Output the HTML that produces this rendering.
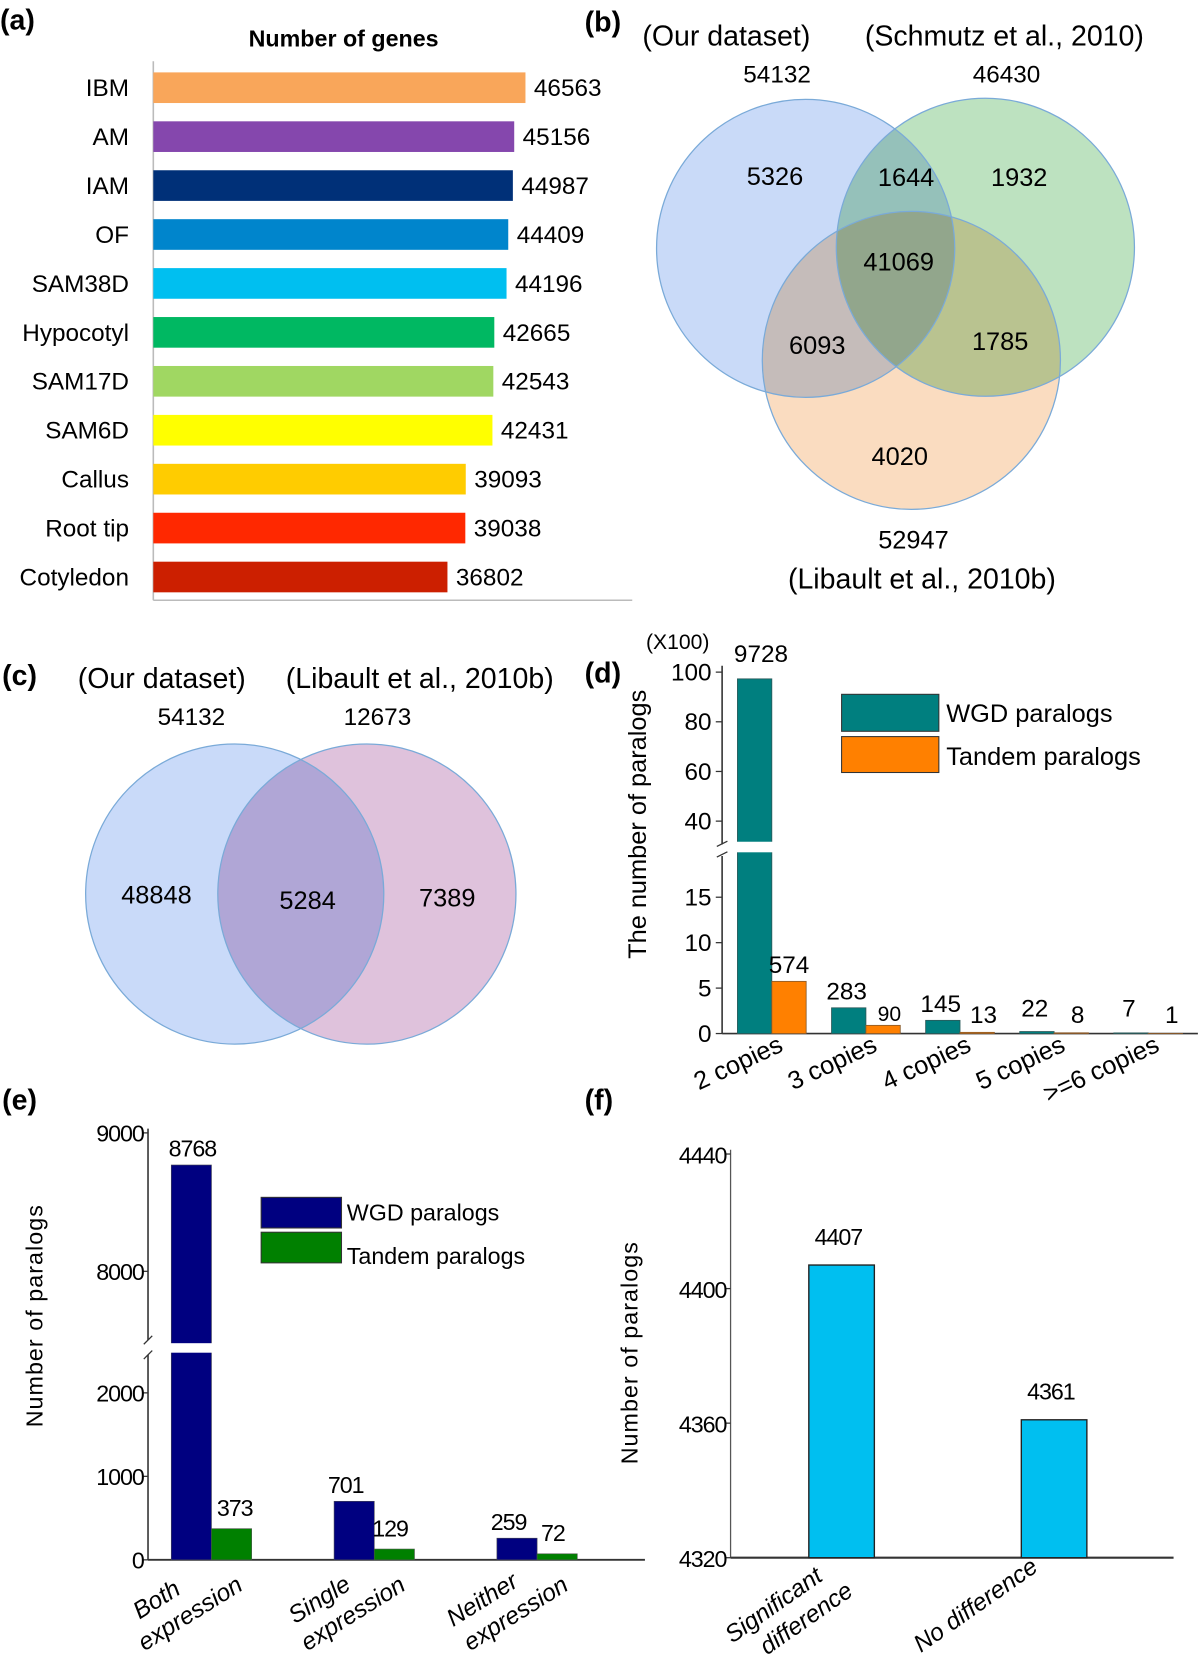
<!DOCTYPE html>
<html><head><meta charset="utf-8"><style>
html,body{margin:0;padding:0;background:#fff;}
svg{display:block;font-family:"Liberation Sans",Arial,sans-serif;}
.mb{mix-blend-mode:multiply;}
</style></head><body>
<svg id="fig" width="1200" height="1656" viewBox="0 0 1135 1567" preserveAspectRatio="none" xmlns="http://www.w3.org/2000/svg">
<rect x="0" y="0" width="1135" height="1567" fill="#fff"/>
<g id="pa">
<text x="0" y="28" font-size="27" font-weight="bold">(a)</text>
<text x="325" y="44" font-size="22" font-weight="bold" text-anchor="middle">Number of genes</text>
<line x1="145" y1="58" x2="145" y2="568" stroke="#bbb" stroke-width="1.5"/>
<line x1="145" y1="568" x2="598" y2="568" stroke="#bbb" stroke-width="1.5"/>
</g>
<g id="pb" style="isolation:isolate">
<text x="553" y="30" font-size="27" font-weight="bold">(b)</text>
<text x="687" y="43" font-size="27" text-anchor="middle">(Our dataset)</text>
<text x="950" y="43" font-size="27" text-anchor="middle">(Schmutz et al., 2010)</text>
<text x="735" y="78" font-size="23" text-anchor="middle">54132</text>
<text x="952" y="78" font-size="23" text-anchor="middle">46430</text>
<circle class="mb" cx="762" cy="235" r="141" fill="#c9daf8"/>
<circle class="mb" cx="932" cy="234" r="141" fill="#bde2c0"/>
<circle class="mb" cx="862" cy="341" r="141" fill="#fadcc0"/>
<circle cx="762" cy="235" r="141" fill="none" stroke="#7aaad8" stroke-width="1.2"/>
<circle cx="932" cy="234" r="141" fill="none" stroke="#7aaad8" stroke-width="1.2"/>
<circle cx="862" cy="341" r="141" fill="none" stroke="#7aaad8" stroke-width="1.2"/>
<g font-size="24" text-anchor="middle">
<text x="733" y="175">5326</text>
<text x="857" y="176">1644</text>
<text x="964" y="176">1932</text>
<text x="850" y="256">41069</text>
<text x="773" y="335">6093</text>
<text x="946" y="331">1785</text>
<text x="851" y="440">4020</text>
<text x="864" y="519">52947</text>
</g>
<text x="872" y="557" font-size="27" text-anchor="middle">(Libault et al., 2010b)</text>
</g>
<g id="pc" style="isolation:isolate">
<text x="2" y="648" font-size="27" font-weight="bold">(c)</text>
<text x="153" y="651" font-size="27" text-anchor="middle">(Our dataset)</text>
<text x="397" y="651" font-size="27" text-anchor="middle">(Libault et al., 2010b)</text>
<text x="181" y="686" font-size="23" text-anchor="middle">54132</text>
<text x="357" y="686" font-size="23" text-anchor="middle">12673</text>
<ellipse class="mb" cx="222" cy="846" rx="141" ry="142" fill="#c9daf9"/>
<ellipse class="mb" cx="347" cy="846" rx="141" ry="142" fill="#dfc2dc"/>
<ellipse cx="222" cy="846" rx="141" ry="142" fill="none" stroke="#7aaad8" stroke-width="1.2"/>
<ellipse cx="347" cy="846" rx="141" ry="142" fill="none" stroke="#7aaad8" stroke-width="1.2"/>
<g font-size="24" text-anchor="middle">
<text x="148" y="855">48848</text>
<text x="291" y="860">5284</text>
<text x="423" y="858">7389</text>
</g>
</g>
<g id="pd">
<text x="553" y="646" font-size="27" font-weight="bold">(d)</text>
<text x="611" y="614" font-size="20">(X100)</text>
<text transform="translate(611,780) rotate(-90)" font-size="24" text-anchor="middle">The number of  paralogs</text>
<rect x="796" y="657" width="92" height="35" fill="#007f7f" stroke="#333" stroke-width="1"/>
<rect x="796" y="697" width="92" height="34" fill="#ff8000" stroke="#333" stroke-width="1"/>
<text x="895" y="683" font-size="24">WGD paralogs</text>
<text x="895" y="724" font-size="24">Tandem paralogs</text>
</g>
<g id="pe">
<text x="2" y="1050" font-size="27" font-weight="bold">(e)</text>
<text transform="translate(40,1245) rotate(-90)" font-size="22" text-anchor="middle" letter-spacing="1">Number of  paralogs</text>
<rect x="247" y="1133" width="76" height="29" fill="#000080" stroke="#333"/>
<rect x="247" y="1166" width="76" height="29" fill="#008000" stroke="#333"/>
<text x="328" y="1155" font-size="22">WGD paralogs</text>
<text x="328" y="1196" font-size="22">Tandem paralogs</text>
</g>
<g id="pf">
<text x="553" y="1050" font-size="27" font-weight="bold">(f)</text>
<text transform="translate(603,1280) rotate(-90)" font-size="22" text-anchor="middle" letter-spacing="1">Number of  paralogs</text>
</g>
</svg>
<script>
var NS="http://www.w3.org/2000/svg";
function mk(p,tag,a){var e=document.createElementNS(NS,tag);for(var k in a)e.setAttribute(k,a[k]);p.appendChild(e);return e;}
function tx(p,x,y,s,size,anchor,extra){var e=mk(p,"text",{x:x,y:y,"font-size":size,"text-anchor":anchor||"middle"});if(extra)for(var k in extra)e.setAttribute(k,extra[k]);e.textContent=s;return e;}

// ---- Panel (a) data ----
var aCategories=["IBM","AM","IAM","OF","SAM38D","Hypocotyl","SAM17D","SAM6D","Callus","Root tip","Cotyledon"];
var aValues=[46563,45156,44987,44409,44196,42665,42543,42431,39093,39038,36802];
var aColors=["#f9a65a","#8547ad","#003078","#0085cc","#00bff0","#00b862","#a0d762","#ffff00","#ffcc00","#ff2800","#cc1f00"];

// ---- Panel (d) data (raw counts; axis in x100) ----
var dCategories=["2 copies","3 copies","4 copies","5 copies",">=6 copies"];
var dWGD=[9728,283,145,22,7];
var dTandem=[574,90,13,8,1];
var dTicksUpper=[100,80,60,40];
var dTicksLower=[15,10,5,0];

// ---- Panel (e) data ----
var eCategories=[["Both","expression"],["Single","expression"],["Neither","expression"]];
var eWGD=[8768,701,259];
var eTandem=[373,129,72];
var eTicksUpper=[9000,8000];
var eTicksLower=[2000,1000,0];

// ---- Panel (f) data ----
var fCategories=[["Significant","difference"],["No difference"]];
var fValues=[4407,4361];
var fTicks=[4440,4400,4360,4320];

(function(){
 var g=document.getElementById("pa");
 var x=function(v){return 145+v*(352/46563);};
 for(var i=0;i<aCategories.length;i++){
  var cy=83+i*46.3;
  var r=mk(g,"rect",{x:145,y:cy-14.5,width:x(aValues[i])-145,height:29,fill:aColors[i]});
  
  
  var l=tx(g,122,cy+8,aCategories[i],23,"end");
  
  
  var v=tx(g,x(aValues[i])+8,cy+8,String(aValues[i]),23,"start");
  
  
 }
})();

(function(){
 var g=document.getElementById("pd");
 var ax=683, y0=978;
 var yU=function(v){return 636+(100-v)*2.35;};
 var yL=function(v){return y0-v*8.6;};
 var yv=function(v){return v>19?yU(v):yL(v);};
 mk(g,"line",{x1:ax,y1:630,x2:ax,y2:799,stroke:"#333","stroke-width":1.5});
 mk(g,"line",{x1:ax,y1:810,x2:ax,y2:y0,stroke:"#333","stroke-width":1.5});
 mk(g,"line",{x1:ax-5,y1:801,x2:ax+5,y2:796,stroke:"#333","stroke-width":1.2});
 mk(g,"line",{x1:ax-5,y1:811,x2:ax+5,y2:806,stroke:"#333","stroke-width":1.2});
 mk(g,"line",{x1:ax,y1:y0,x2:1133,y2:y0,stroke:"#333","stroke-width":1.5});
 dTicksUpper.concat(dTicksLower).forEach(function(t,i){
  var yy=i<dTicksUpper.length?yU(t):yL(t);
  mk(g,"line",{x1:ax-6,y1:yy,x2:ax,y2:yy,stroke:"#333","stroke-width":1.2});
  var l=tx(g,673,yy+8,String(t),23,"end");
  
  
 });
 var bw=32.5;
 for(var i=0;i<dCategories.length;i++){
  var c=730+i*89;
  var h1=yv(dWGD[i]/100), h2=yv(dTandem[i]/100);
  var b=mk(g,"rect",{x:c-bw,y:h1,width:bw,height:y0-h1,fill:"#007f7f",stroke:"#2a5a5a","stroke-width":0.8});
  
  
  var b2=mk(g,"rect",{x:c,y:h2,width:bw,height:y0-h2,fill:"#ff8000",stroke:"#8a5a2a","stroke-width":0.8});
  
  
  var off=(i==0)?-16:-8;
  var v1=tx(g,c-bw/2-(i>0?2:-6),Math.min(h1,970)+off,String(dWGD[i]),23,"middle");
  
  
  var v2=tx(g,c+bw/2+(i>0?6:0),Math.min(h2,972)+(i==0?-8:-4),String(dTandem[i]),i==1?20:23,"middle");
  
  
  var cl=tx(g,0,0,dCategories[i],24,"end",{transform:"translate("+(c+12)+",994) rotate(-25)"});
  
  
 }
 mk(g,"rect",{x:695,y:yU(30)-4,width:72,height:10,fill:"#fff"});
})();

(function(){
 var g=document.getElementById("pe");
 var ax=140,y0=1476;
 var yU=function(v){return 1072+(9000-v)*0.131;};
 var yL=function(v){return y0-v*0.079;};
 var yv=function(v){return v>2500?yU(v):yL(v);};
 mk(g,"line",{x1:ax,y1:1068,x2:ax,y2:1268,stroke:"#333","stroke-width":1.5});
 mk(g,"line",{x1:ax,y1:1282,x2:ax,y2:y0,stroke:"#333","stroke-width":1.5});
 mk(g,"line",{x1:ax-4,y1:1272,x2:ax+4,y2:1264,stroke:"#333","stroke-width":1.2});
 mk(g,"line",{x1:ax-4,y1:1286,x2:ax+4,y2:1278,stroke:"#333","stroke-width":1.2});
 mk(g,"line",{x1:ax,y1:y0,x2:610,y2:y0,stroke:"#333","stroke-width":1.8});
 eTicksUpper.concat(eTicksLower).forEach(function(t,i){
  var yy=i<eTicksUpper.length?yU(t):yL(t);
  mk(g,"line",{x1:ax-5,y1:yy,x2:ax,y2:yy,stroke:"#333","stroke-width":1.2});
  var l=tx(g,136,yy+8,String(t),22,"end",{"letter-spacing":"-1"});
  
  
 });
 var bw=38;
 for(var i=0;i<eCategories.length;i++){
  var c=200+i*154;
  var h1=yv(eWGD[i]), h2=yv(eTandem[i]);
  var b=mk(g,"rect",{x:c-bw,y:h1,width:bw,height:y0-h1,fill:"#000080",stroke:"#445","stroke-width":0.6});
  
  
  var b2=mk(g,"rect",{x:c,y:h2,width:bw,height:y0-h2,fill:"#008000",stroke:"#454","stroke-width":0.6});
  
  
  var v1=tx(g,c-bw/2-(i>0?8:-1),h1-8,String(eWGD[i]),22,"middle",{"letter-spacing":"-1"});
  
  
  var v2=tx(g,c+bw/2+(i==0?3:-4),h2-12,String(eTandem[i]),22,"middle",{"letter-spacing":"-1"});
  
  
  var cl=tx(g,0,0,"",23,"middle",{transform:"translate("+(c-48)+",1520) rotate(-32)","font-style":"italic"});
  
  
  eCategories[i].forEach(function(s,j){var t=mk(cl,"tspan",{x:j*20,dy:j?28:0});t.textContent=s;});
 }
 mk(g,"rect",{x:160,y:1271,width:80,height:9,fill:"#fff"});
})();

(function(){
 var g=document.getElementById("pf");
 var ax=691,y0=1474;
 var y=function(v){return y0-(v-4320)*(382/120);};
 mk(g,"line",{x1:ax,y1:1088,x2:ax,y2:y0,stroke:"#555","stroke-width":1.2});
 mk(g,"line",{x1:ax,y1:y0,x2:1110,y2:y0,stroke:"#333","stroke-width":2});
 fTicks.forEach(function(t){
  var yy=y(t);
  mk(g,"line",{x1:ax-5,y1:yy,x2:ax,y2:yy,stroke:"#333","stroke-width":1.2});
  var l=tx(g,687,yy+9,String(t),22,"end",{"letter-spacing":"-1"});
  
  
 });
 for(var i=0;i<fValues.length;i++){
  var c=796+i*201, h=y(fValues[i]);
  var b=mk(g,"rect",{x:c-31,y:h,width:62,height:y0-h,fill:"#00bff0",stroke:"#222","stroke-width":1.3});
  
  
  var v=tx(g,c-3,h-19,String(fValues[i]),22,"middle",{"letter-spacing":"-1"});
  
  
  var cl=tx(g,0,0,"",23,"middle",{transform:"translate("+(i?c-70:c-60)+","+(i?1525:1525)+") rotate(-35)","font-style":"italic"});
  
  
  fCategories[i].forEach(function(s,j){var t=mk(cl,"tspan",{x:j*18,dy:j?28:0});t.textContent=s;});
 }
})();
</script>
</body></html>
